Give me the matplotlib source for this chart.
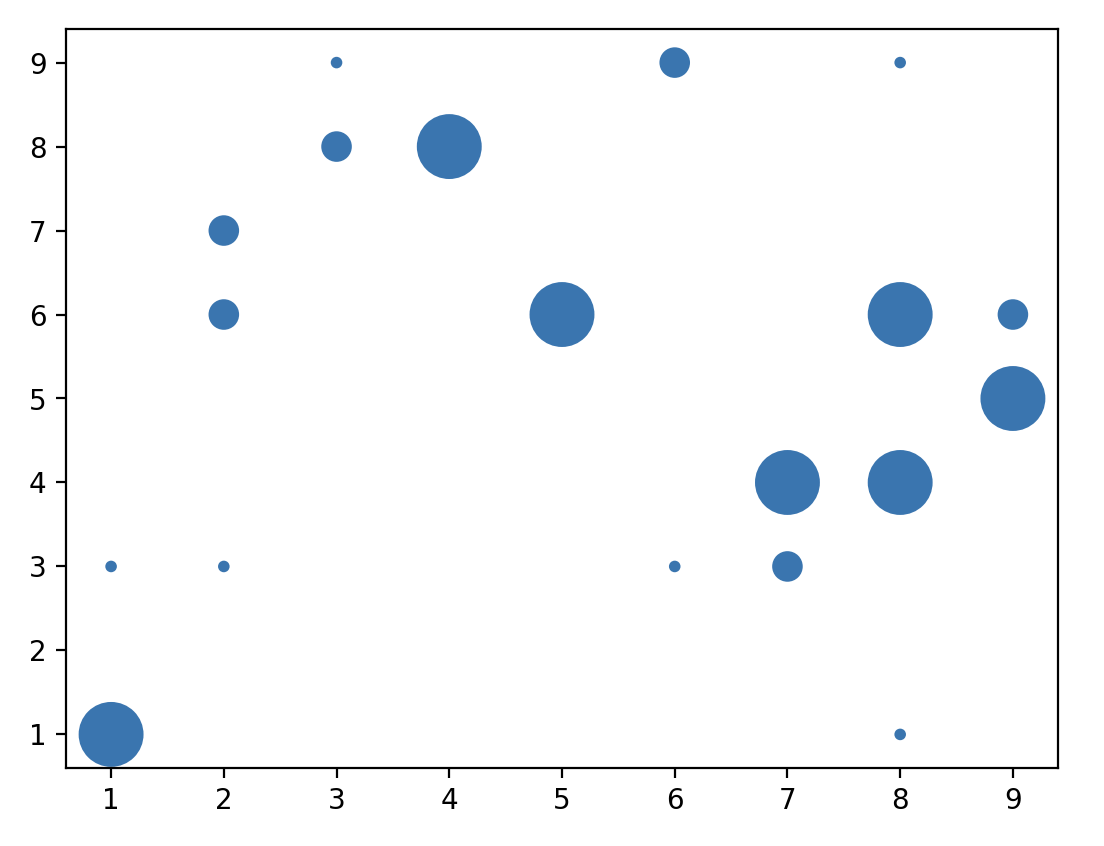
import matplotlib
matplotlib.use("Agg")
import matplotlib.pyplot as plt

# points
x = [1, 1, 2, 2, 2, 3, 3, 4, 5, 6, 6, 7, 7, 8, 8, 8, 8, 9, 9]
y = [1, 3, 3, 6, 7, 8, 9, 8, 6, 9, 3, 4, 3, 9, 6, 4, 1, 5, 6]
sizes = [500, 10, 10, 100, 100, 100, 10, 500, 500, 100, 10,
         500, 100, 10, 500, 500, 10, 500, 100]

fig, ax = plt.subplots(figsize=(5.52, 4.23))
fig.subplots_adjust(left=66 / 1104, right=1058 / 1104,
                    top=1 - 29 / 846, bottom=1 - 768 / 846)
ax.scatter(x, y, s=sizes, color="#3a75af")

ax.set_xticks(range(1, 10))
ax.set_yticks(range(1, 10))

fig.savefig("out.png", dpi=200)
